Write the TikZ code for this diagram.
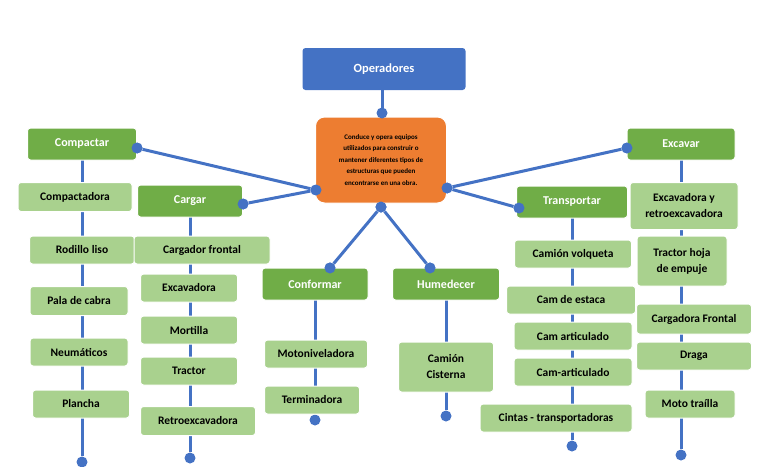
\documentclass[tikz,border=0pt]{standalone}
\usepackage{fontspec}
\setmainfont{Carlito}
\begin{document}
\begin{tikzpicture}[x=1pt,y=-1pt,
  ln/.style={draw=blueL,line width=3pt},
  dot/.style={circle,fill=blueL,inner sep=0pt,minimum size=11pt},
  top/.style={fill=blueT,rounded corners=3pt,text=white,font=\bfseries\fontsize{12.5}{14}\selectfont,inner sep=0pt},
  cat/.style={fill=greenD,draw=white,line width=1pt,rounded corners=3pt,text=white,font=\bfseries\fontsize{12}{14}\selectfont,inner sep=0pt},
  leaf/.style={fill=greenL,draw=white,line width=1pt,rounded corners=3pt,text=black,font=\bfseries\fontsize{11.5}{16}\selectfont,align=center,inner sep=0pt}]
\definecolor{blueL}{HTML}{4472C4}
\definecolor{blueT}{HTML}{4472C4}
\definecolor{greenD}{HTML}{70AD47}
\definecolor{greenL}{HTML}{A9D18E}
\definecolor{orangeC}{HTML}{ED7D31}
\useasboundingbox (0,0) rectangle (768,466);
\coordinate (opb) at (382,110);
\node[dot] (cl) at (316,190) {};
\node[dot] (cr) at (447,188) {};
\node[dot] (cb) at (381,207) {};
\node[dot] (kc) at (137,148) {};
\node[dot] (kg) at (243,204) {};
\node[dot] (kt) at (519,208) {};
\node[dot] (ke) at (627,148) {};
\node[dot] (kf) at (330,268) {};
\node[dot] (kh) at (430,268) {};
\node[dot] (d1) at (82,462) {};
\node[dot] (d2) at (190,458) {};
\node[dot] (d3) at (315,420) {};
\node[dot] (d4) at (446,416) {};
\node[dot] (d5) at (572,446) {};
\node[dot] (d6) at (681,455) {};
\node[top,minimum width=163pt,minimum height=42pt] (op) at (384,69) {Operadores};
\draw[ln] (382,90) -- (opb);
\draw[ln] (kc) -- (cl); \draw[ln] (kg) -- (cl);
\draw[ln] (kt) -- (cr); \draw[ln] (ke) -- (cr);
\draw[ln] (cb) -- (kf); \draw[ln] (cb) -- (kh);
\coordinate (s1) at (82,160); \coordinate (s2) at (190,217);
\coordinate (s3) at (315,300); \coordinate (s4) at (446,300);
\coordinate (s5) at (572,218); \coordinate (s6) at (681,160);
\draw[ln] (s1) -- (d1); \draw[ln] (s2) -- (d2); \draw[ln] (s3) -- (d3);
\draw[ln] (s4) -- (d4); \draw[ln] (s5) -- (d5); \draw[ln] (s6) -- (d6);
\node[fill=orangeC,draw=white,line width=1pt,rounded corners=9pt,minimum width=131pt,minimum height=86pt,align=center,font=\bfseries\fontsize{7}{11.5}\selectfont,inner sep=0pt] (c) at (381,160) {Conduce y opera equipos\\utilizados para construir o\\mantener diferentes tipos de\\estructuras que pueden\\encontrarse en una obra.};
\node[dot] at (316,190) {}; \node[dot] at (447,188) {}; \node[dot] at (381,207) {};
\node[dot] at (382,113) {};
\node[cat,minimum width=109pt,minimum height=32pt] (compactar) at (82,144) {Compactar};
\node[cat,minimum width=105pt,minimum height=32pt] (cargar) at (190,201) {Cargar};
\node[cat,minimum width=106pt,minimum height=32pt] (conformar) at (315,284) {Conformar};
\node[cat,minimum width=107pt,minimum height=32pt] (humedecer) at (446,284) {Humedecer};
\node[cat,minimum width=111pt,minimum height=32pt] (transportar) at (572,202) {Transportar};
\node[cat,minimum width=108pt,minimum height=32pt] (excavar) at (681,144) {Excavar};
\node[dot] at (137,148) {}; \node[dot] at (243,204) {}; \node[dot] at (519,208) {};
\node[dot] at (627,148) {}; \node[dot] at (330,268) {}; \node[dot] at (430,268) {};
\node[leaf,minimum width=114pt,minimum height=29pt] (a1) at (75,197) {Compactadora};
\node[leaf,minimum width=105pt,minimum height=28pt] (a2) at (82,250) {Rodillo liso};
\node[leaf,minimum width=98pt,minimum height=29pt] (a3) at (79,301) {Pala de cabra};
\node[leaf,minimum width=98pt,minimum height=28pt] (a4) at (79,352) {Neumáticos};
\node[leaf,minimum width=97pt,minimum height=28pt] (a5) at (81,404) {Plancha};
\node[leaf,minimum width=136pt,minimum height=28pt] (b1) at (202,250) {Cargador frontal};
\node[leaf,minimum width=97pt,minimum height=28pt] (b2) at (189,288) {Excavadora};
\node[leaf,minimum width=97pt,minimum height=28pt] (b3) at (189,330) {Mortilla};
\node[leaf,minimum width=97pt,minimum height=28pt] (b4) at (189,371) {Tractor};
\node[leaf,minimum width=115pt,minimum height=29pt] (b5) at (198,421) {Retroexcavadora};
\node[leaf,minimum width=103pt,minimum height=28pt] (c1) at (316,354) {Motoniveladora};
\node[leaf,minimum width=95pt,minimum height=28pt] (c2) at (312,400) {Terminadora};
\node[leaf,minimum width=95pt,minimum height=50pt] (e1) at (446,367) {Camión\\Cisterna};
\node[leaf,minimum width=117pt,minimum height=28pt] (t1) at (573,254) {Camión volqueta};
\node[leaf,minimum width=129pt,minimum height=28pt] (t2) at (571,300) {Cam de estaca};
\node[leaf,minimum width=118pt,minimum height=28pt] (t3) at (573,336) {Cam articulado};
\node[leaf,minimum width=118pt,minimum height=28pt] (t4) at (573,372) {Cam-articulado};
\node[leaf,minimum width=152pt,minimum height=28pt] (t5) at (556,418) {Cintas - transportadoras};
\node[leaf,minimum width=108pt,minimum height=47pt] (x1) at (684,206) {Excavadora y\\retroexcavadora};
\node[leaf,minimum width=90pt,minimum height=50pt] (x2) at (682,261) {Tractor hoja\\de empuje};
\node[leaf,minimum width=115pt,minimum height=30pt] (x3) at (694,319) {Cargadora Frontal};
\node[leaf,minimum width=115pt,minimum height=28pt] (x4) at (694,356) {Draga};
\node[leaf,minimum width=90pt,minimum height=28pt] (x5) at (690,404) {Moto traílla};
\end{tikzpicture}
\end{document}
